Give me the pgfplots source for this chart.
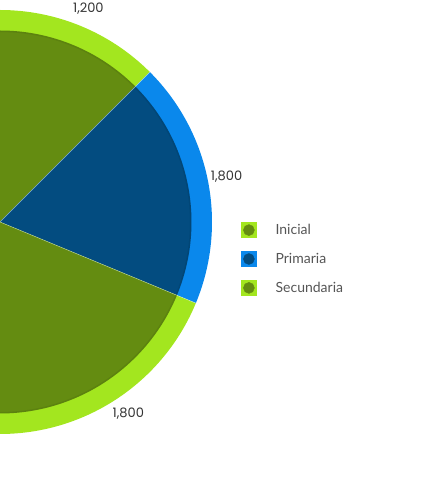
\documentclass[border=0pt]{standalone}
\usepackage{pgfplots}
\pgfplotsset{compat=1.18}
\usepackage{pgfplotstable}
\usepackage{fontspec}
\setmainfont{Lato}
\newfontfamily\numfont{Poppins}
\definecolor{gOut}{HTML}{A3E61F}
\definecolor{gIn}{HTML}{648C11}
\definecolor{bOut}{HTML}{0A88EC}
\definecolor{bIn}{HTML}{034C80}
\definecolor{labc}{HTML}{333333}
\definecolor{legc}{HTML}{555555}
\pgfplotstableread{
label value
Inicial 1200
Primaria 1800
Secundaria 1800
}\piedata
\pgfplotstablegetelem{0}{value}\of\piedata \edef\vA{\pgfplotsretval}
\pgfplotstablegetelem{1}{value}\of\piedata \edef\vB{\pgfplotsretval}
\pgfplotstablegetelem{2}{value}\of\piedata \edef\vC{\pgfplotsretval}
\pgfmathsetmacro\tot{\vA+\vB+\vC}
\pgfmathsetmacro\aA{90}
\pgfmathsetmacro\aB{\aA-180*(\vA/\tot)}
\pgfmathsetmacro\aC{\aB-180*(\vB/\tot)}
\pgfmathsetmacro\aD{\aC-180*(\vC/\tot)}
\pgfmathsetmacro\mA{(\aA+\aB)/2}
\pgfmathsetmacro\mB{(\aB+\aC)/2}
\pgfmathsetmacro\mC{(\aC+\aD)/2}
\newcommand\pieslice[4]{%
  \fill[#3] (axis cs:0,258) -- ++(#1:212pt) arc[start angle=#1, end angle=#2, radius=212pt] -- cycle;
  \fill[#4] (axis cs:0,258) -- ++(#1:191.5pt) arc[start angle=#1, end angle=#2, radius=191.5pt] -- cycle;
}
\newcommand\pielabel[2]{%
  \path (axis cs:0,258) ++(#1:231pt) node[font=\numfont\fontsize{13}{15}\selectfont, text=labc] {\pgfmathprintnumber[fixed,1000 sep={,},assume math mode=true]{#2}};
}
\begin{document}
\begin{tikzpicture}
\begin{axis}[
  scale only axis, width=433pt, height=480pt,
  xmin=0, xmax=433, ymin=0, ymax=480,
  hide axis, clip=true,
  at={(0pt,0pt)}, anchor=origin,
  legend style={at={(axis cs:241,221)}, anchor=west, draw=none, fill=none,
    inner sep=0pt, row sep=13.5pt, font=\fontsize{14}{15}\selectfont\color{legc},
    nodes={inner sep=0pt},
    /tikz/every odd column/.style={column sep=19pt}},
  legend cell align=left,
]
\pieslice{\aA}{\aB}{gOut}{gIn}
\pieslice{\aB}{\aC}{bOut}{bIn}
\pieslice{\aC}{\aD}{gOut}{gIn}
\draw[black, opacity=0.07, line width=1.5pt] (axis cs:0,258) ++(90:190.7pt) arc[start angle=90, end angle=-90, radius=190.7pt];
\draw[white, opacity=0.5, line width=0.5pt] (axis cs:0,258) -- ++(\aB:212pt);
\draw[white, opacity=0.5, line width=0.5pt] (axis cs:0,258) -- ++(\aC:212pt);
\pielabel{\mA}{\vA}
\pielabel{\mB}{\vB}
\pielabel{\mC}{\vC}
\addlegendimage{legend image code/.code={\fill[gOut] (0pt,-7.5pt) rectangle (15pt,7.5pt); \fill[gIn] (7.5pt,0pt) circle (5.5pt);}}
\addlegendentry{Inicial}
\addlegendimage{legend image code/.code={\fill[bOut] (0pt,-7.5pt) rectangle (15pt,7.5pt); \fill[bIn] (7.5pt,0pt) circle (5.5pt);}}
\addlegendentry{Primaria}
\addlegendimage{legend image code/.code={\fill[gOut] (0pt,-7.5pt) rectangle (15pt,7.5pt); \fill[gIn] (7.5pt,0pt) circle (5.5pt);}}
\addlegendentry{Secundaria}
\end{axis}
\pgfresetboundingbox
\path[use as bounding box] (0pt,0pt) rectangle (433pt,480pt);
\end{tikzpicture}
\end{document}
